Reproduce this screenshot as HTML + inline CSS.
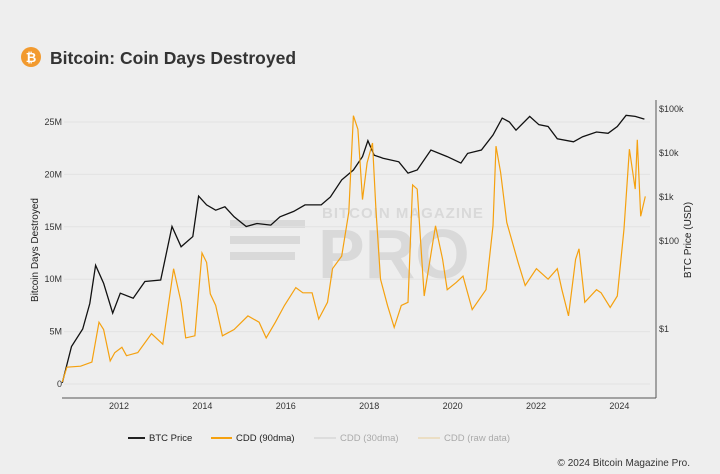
<!DOCTYPE html>
<html><head><meta charset="utf-8"><style>
html,body{margin:0;padding:0;background:#eeeeee;width:720px;height:474px;overflow:hidden;font-family:"Liberation Sans",sans-serif}
</style></head><body>
<svg width="720" height="474" xmlns="http://www.w3.org/2000/svg">
<rect width="720" height="474" fill="#eeeeee"/>
<circle cx="31" cy="57" r="10" fill="#f29a2e"/>
<text x="31" y="62" font-size="13" font-weight="bold" fill="#fff" text-anchor="middle">₿</text>
<text x="50" y="64" font-size="17.5" font-weight="bold" fill="#333">Bitcoin: Coin Days Destroyed</text>
<g fill="#d9d9d9" font-weight="bold">
<text x="322" y="218" font-size="15" letter-spacing="1">BITCOIN MAGAZINE</text>
<text x="318" y="278" font-size="70">PRO</text>
<rect x="230" y="220" width="75" height="8"/><rect x="230" y="236" width="70" height="8"/><rect x="230" y="252" width="65" height="8"/>
</g>
<g id="grid"></g>
<g id="axes"></g>
<path id="price" fill="none" stroke="#111" stroke-width="1.3"/>
<path id="cdd" fill="none" stroke="#f5a10f" stroke-width="1.2"/>
<text transform="translate(38,250) rotate(-90)" font-size="10" fill="#222" text-anchor="middle">Bitcoin Days Destroyed</text>
<text transform="translate(691,240) rotate(-90)" font-size="10" fill="#222" text-anchor="middle">BTC Price (USD)</text>
<g font-size="9.5">
<g><line x1="128" y1="438" x2="145" y2="438" stroke="#222" stroke-width="2"/><text x="149" y="441" fill="#222">BTC Price</text></g>
<g><line x1="211" y1="438" x2="232" y2="438" stroke="#f5a10f" stroke-width="2"/><text x="236" y="441" fill="#222">CDD (90dma)</text></g>
<g><line x1="314" y1="438" x2="336" y2="438" stroke="#ccc" stroke-width="1"/><text x="340" y="441" fill="#aaa">CDD (30dma)</text></g>
<g><line x1="418" y1="438" x2="440" y2="438" stroke="#e8cf9a" stroke-width="1"/><text x="444" y="441" fill="#aaa">CDD (raw data)</text></g>
</g>
<text x="690" y="466" font-size="10" fill="#333" text-anchor="end">© 2024 Bitcoin Magazine Pro.</text>
</svg>
<script>
const cddYears=[2010.64,2010.75,2011.08,2011.35,2011.52,2011.63,2011.79,2011.9,2012.07,2012.18,2012.45,2012.78,2013.05,2013.31,2013.49,2013.6,2013.82,2013.99,2014.1,2014.19,2014.32,2014.48,2014.76,2015.09,2015.36,2015.53,2015.75,2015.97,2016.24,2016.41,2016.63,2016.79,2017.0,2017.12,2017.34,2017.51,2017.62,2017.73,2017.84,2017.95,2018.08,2018.16,2018.27,2018.44,2018.6,2018.77,2018.93,2019.04,2019.15,2019.32,2019.59,2019.76,2019.87,2020.09,2020.25,2020.47,2020.8,2020.97,2021.04,2021.15,2021.3,2021.57,2021.74,2022.01,2022.29,2022.51,2022.62,2022.78,2022.95,2023.03,2023.17,2023.45,2023.56,2023.78,2023.95,2024.11,2024.24,2024.38,2024.43,2024.51,2024.62];
const cddValues=[0.2,1.6,1.7,2.1,5.9,5.2,2.2,3.0,3.5,2.7,3.0,4.8,3.8,11.0,7.8,4.4,4.6,12.5,11.6,8.6,7.5,4.6,5.2,6.5,5.9,4.4,5.9,7.5,9.2,8.7,8.7,6.2,7.8,11.0,12.2,16.4,25.6,24.3,17.6,21.1,23.0,16.7,10.0,7.5,5.4,7.5,7.8,19.0,18.6,8.4,15.1,11.9,9.0,9.7,10.3,7.1,9.0,15.1,22.7,20.2,15.4,11.6,9.4,11.0,10.0,11.0,9.0,6.5,11.9,12.9,7.8,9.0,8.7,7.3,8.4,14.8,22.4,18.6,23.3,16.0,17.9];
const priceYears=[2010.64,2010.86,2011.13,2011.3,2011.44,2011.63,2011.85,2012.03,2012.34,2012.62,2013.0,2013.27,2013.49,2013.77,2013.91,2014.1,2014.32,2014.54,2014.76,2015.05,2015.31,2015.64,2015.86,2016.19,2016.46,2016.85,2017.07,2017.34,2017.62,2017.84,2017.97,2018.12,2018.33,2018.71,2018.93,2019.15,2019.48,2019.87,2020.2,2020.36,2020.69,2020.97,2021.19,2021.36,2021.52,2021.85,2022.07,2022.29,2022.51,2022.9,2023.12,2023.45,2023.73,2023.95,2024.16,2024.38,2024.6];
const priceValues=[0.06,0.4,1,3.8,28,11,2.3,6.5,5,12,13,214,74,126,1050,660,500,600,355,214,250,230,355,470,660,660,1000,2450,4100,8300,19000,8900,7600,6300,3500,4100,11700,8300,5900,9800,11700,25700,62000,51000,33000,68000,44000,40000,21000,18000,23500,30000,28000,40000,72000,68000,59000];
const cddTicks=[0,5,10,15,20,25];const cddTickLabels=["0","5M","10M","15M","20M","25M"];
const priceTicks=[1,100,1000,10000,100000];const priceTickLabels=["$1","$100","$1k","$10k","$100k"];
const yearTicks=[2012,2014,2016,2018,2020,2022,2024];
const X=y=>119+(y-2012)*41.7;
const YC=v=>384-v*10.48;
const YP=p=>329-Math.log10(p)*44;
const NS="http://www.w3.org/2000/svg";
function mk(t,a,parent){const e=document.createElementNS(NS,t);for(const k in a)e.setAttribute(k,a[k]);parent.appendChild(e);return e;}
const grid=document.getElementById('grid'),axes=document.getElementById('axes');
cddTicks.forEach((v,i)=>{
 const l=mk('line',{x1:64,x2:650,y1:YC(v),y2:YC(v),stroke:'#e2e2e2','stroke-width':1},grid);
 
 
 const t=mk('text',{x:62,y:YC(v)+3,'font-size':9,fill:'#333','text-anchor':'end'},axes);t.textContent=cddTickLabels[i];
 
 
});
priceTicks.forEach((p,i)=>{
 const t=mk('text',{x:659,y:YP(p)+3,'font-size':9,fill:'#333'},axes);t.textContent=priceTickLabels[i];
 
 
});
yearTicks.forEach(y=>{
 const t=mk('text',{x:X(y),y:409,'font-size':9,fill:'#333','text-anchor':'middle'},axes);t.textContent=y;
 
 
});
const ax1=mk('line',{x1:62,x2:656,y1:398,y2:398,stroke:'#555','stroke-width':1},axes);


const ax2=mk('line',{x1:656,x2:656,y1:100,y2:398,stroke:'#555','stroke-width':1},axes);


document.getElementById('cdd').setAttribute('d',cddYears.map((y,i)=>(i?'L':'M')+X(y).toFixed(1)+','+YC(cddValues[i]).toFixed(1)).join(''));
document.getElementById('price').setAttribute('d',priceYears.map((y,i)=>(i?'L':'M')+X(y).toFixed(1)+','+YP(priceValues[i]).toFixed(1)).join(''));
</script>
</body></html>
